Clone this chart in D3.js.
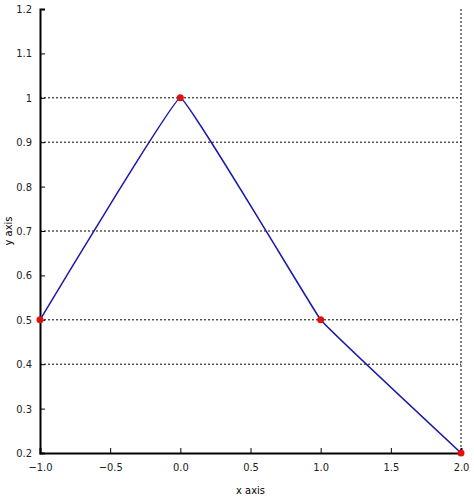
<!DOCTYPE html>
<html><head><meta charset="utf-8">
<script src="https://cdn.jsdelivr.net/npm/d3@7"></script>
<style>body{margin:0;background:#fff}text{font-family:"DejaVu Sans Condensed","DejaVu Sans",sans-serif;font-size:11px}</style>
</head><body>
<script>
// data
const xs = [-1, 0, 1, 2];
const ys = [0.5, 1, 0.5, 0.2];
const xTicks = [-1, -0.5, 0, 0.5, 1, 1.5, 2];
const yTicks = [0.2, 0.3, 0.4, 0.5, 0.6, 0.7, 0.8, 0.9, 1, 1.1, 1.2];
const gridY = [0.4, 0.5, 0.7, 0.9, 1];

const width = 474, height = 504;
const x = d3.scaleLinear().domain([-1, 2]).range([40, 461]);
const y = d3.scaleLinear().domain([0.2, 1.2]).range([453, 9]);

const svg = d3.select('body').append('svg')
    .attr('width', width).attr('height', height);

svg.selectAll('line.grid').data(gridY).enter().append('line')
    .attr('x1', x(-1)).attr('x2', x(2))
    .attr('y1', d => y(d)).attr('y2', d => y(d))
    .attr('stroke', '#000').attr('stroke-dasharray', '2,2');
svg.append('line')
    .attr('x1', x(2)).attr('x2', x(2)).attr('y1', y(1.2)).attr('y2', y(0.2))
    .attr('stroke', '#000').attr('stroke-dasharray', '2,2');

svg.append('g').attr('transform', `translate(0,${y(0.2)})`)
    .call(d3.axisBottom(x).tickValues(xTicks).tickSize(-5).tickPadding(10))
    .call(g => g.select('.domain').attr('stroke-width', 2));
svg.append('g').attr('transform', `translate(${x(-1)},0)`)
    .call(d3.axisLeft(y).tickValues(yTicks).tickSize(-5).tickPadding(8).tickFormat(d3.format('~g')))
    .call(g => g.select('.domain').attr('stroke-width', 2));
svg.selectAll('.tick text').attr('fill', '#222');

const pts = xs.map((d, i) => [d, ys[i]]);
svg.append('path').datum(pts)
    .attr('fill', 'none').attr('stroke', '#1a1aa8').attr('stroke-width', 1.5)
    .attr('d', d3.line().x(d => x(d[0])).y(d => y(d[1])).curve(d3.curveCardinal.tension(0.85)));
svg.selectAll('circle').data(pts).enter().append('circle')
    .attr('cx', d => x(d[0])).attr('cy', d => y(d[1])).attr('r', 3.5).attr('fill', '#e01010');

svg.append('text').attr('x', x(0.5)).attr('y', 494).attr('text-anchor', 'middle').text('x axis');
svg.append('text').attr('transform', `translate(12,${y(0.7)}) rotate(-90)`).attr('text-anchor', 'middle').text('y axis');
</script>
</body></html>
